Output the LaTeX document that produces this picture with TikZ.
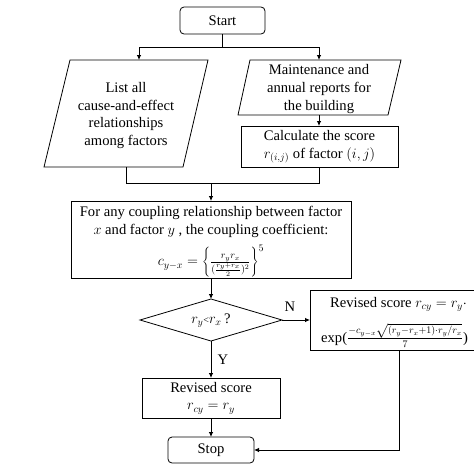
\documentclass[tikz,border=0pt]{standalone}
\usepackage{fontspec}
\setmainfont{Liberation Serif}
\usetikzlibrary{arrows.meta}
\tikzset{
  line/.style={line width=0.8pt},
  arr/.style={line width=0.8pt,-{Latex[length=5pt,width=4.5pt]}},
  txt/.style={inner sep=0pt,font=\fontsize{14.6}{17.7}\selectfont,align=center},
  term/.style={draw,line width=0.8pt,rounded corners=4pt},
  boxs/.style={draw,line width=0.8pt}
}
\begin{document}
\begin{tikzpicture}[x=1pt,y=-1pt]
\useasboundingbox (0,0) rectangle (474,474);
\fill[white] (0,0) rectangle (474,474);
\clip (0,0) rectangle (474,474);
% Start
\draw[term] (180,7) rectangle (265,34);
\node[txt] (start) at (222.5,21) {Start};
\coordinate (startS) at (222.5,34);
\coordinate (split) at (222.5,47);
\coordinate (splitL) at (139,47);
\coordinate (splitR) at (319,47);
% left parallelogram
\draw[line] (70,60) -- (208,60) -- (183,167) -- (44,167) -- cycle;
\coordinate (lpT) at (139,60);
\coordinate (lpB) at (126,167);
\node[txt] (list) at (126,115.5) {List all\\cause-and-effect\\relationships\\among factors};
% right parallelogram
\draw[line] (250,60) -- (401,60) -- (388,115) -- (238,115) -- cycle;
\coordinate (rpT) at (319,60);
\coordinate (rpB) at (319,115);
\node[txt] (maint) at (319,89) {Maintenance and\\annual reports for\\the building};
% calc box
\draw[boxs] (241,126) rectangle (398,167);
\coordinate (calcT) at (319,126);
\coordinate (calcB) at (319,167);
\node[txt] (calc) at (319.5,147) {Calculate the score\\$r_{(i,j)}$ of factor $(i,j)$};
% join
\coordinate (jL) at (126,183);
\coordinate (jR) at (319,183);
\coordinate (jM) at (211,183);
% coupling box
\draw[boxs] (71,201) rectangle (351,278);
\coordinate (coupT) at (211,201);
\coordinate (coupB) at (211,278);
\node[txt] (coup) at (211,222) {For any coupling relationship between factor\\$x$ and factor $y$ , the coupling coefficient:};
\node[txt] (form) at (211,261) {$c_{y-x}=\left\{\frac{r_y r_x}{(\frac{r_y+r_x}{2})^2}\right\}^5$};
% diamond
\draw[line] (140,320) -- (211,299) -- (282,320) -- (211,341) -- cycle;
\coordinate (diaT) at (211,299);
\coordinate (diaB) at (211,341);
\coordinate (diaR) at (282,320);
\node[txt] (cond) at (211,321) {$r_y${\fontsize{10}{10}\selectfont<}$r_x$\,?};
% right box
\draw[boxs] (310,290) rectangle (488,350);
\coordinate (rbL) at (310,320);
\coordinate (rbB) at (399,350);
\node[txt,anchor=west] (rev1) at (330,304) {Revised score $r_{cy}=r_y\cdot$};
\node[txt,anchor=west] (rev2) at (321,335) {exp($\frac{-c_{y-x}\sqrt{(r_y-r_x+1)\cdot r_y/r_x}}{7}$)};
\node[txt] (N) at (290,307) {N};
\node[txt] (Y) at (223,360) {Y};
% revised box
\draw[boxs] (142,378) rectangle (280,418);
\coordinate (revT) at (211,378);
\coordinate (revB) at (211,418);
\node[txt] (rev) at (211,398) {Revised score\\$r_{cy}=r_y$};
% Stop
\draw[term] (168,437) rectangle (254,463);
\coordinate (stopT) at (211,437);
\coordinate (stopR) at (254,450);
\node[txt] (stop) at (211,450) {Stop};
\coordinate (corner) at (399,450);
% connectors
\draw[line] (startS) -- (split);
\draw[line] (splitL) -- (splitR);
\draw[arr] (splitL) -- (lpT);
\draw[arr] (splitR) -- (rpT);
\draw[arr] (rpB) -- (calcT);
\draw[line] (lpB) -- (jL) -- (jR) -- (calcB);
\draw[arr] (jM) -- (coupT);
\draw[arr] (coupB) -- (diaT);
\draw[arr] (diaR) -- (rbL);
\draw[arr] (diaB) -- (revT);
\draw[arr] (revB) -- (stopT);
\draw[arr] (rbB) -- (corner) -- (stopR);
\end{tikzpicture}
\end{document}
